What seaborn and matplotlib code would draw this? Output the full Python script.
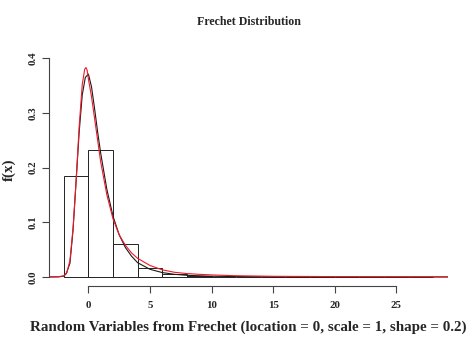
import numpy as np
import pandas as pd
import seaborn as sns
import matplotlib
matplotlib.use("Agg")
import matplotlib.pyplot as plt

# Histogram of the simulated sample: bin edges (width 2) and densities
bin_edges = [-2, 0, 2, 4, 6, 8, 10, 12, 14, 16, 18, 20, 22, 24, 26, 28]
bin_density = [0.1846, 0.2316, 0.0597, 0.0170, 0.0060, 0.0020, 0.0008,
               0.0004, 0.0002, 0.0001, 0.0001, 0.0, 0.0, 0.0, 0.0001]

# Theoretical Frechet density (black)
theo_x = [-3.2, -2.4, -2.0, -1.8, -1.5, -1.25, -1.0, -0.75, -0.5, -0.25,
          0.0, 0.25, 0.5, 0.75, 1.0, 1.5, 2.0, 2.5, 3.0, 3.5, 4.0, 5.0,
          6.0, 7.0, 8.0, 10.0, 12.0, 15.0, 20.0, 29.2]
theo_y = [0.0, 0.0002, 0.0015, 0.006, 0.025, 0.085, 0.175, 0.265, 0.333,
          0.365, 0.371, 0.348, 0.308, 0.265, 0.226, 0.160, 0.111, 0.077,
          0.054, 0.038, 0.026, 0.014, 0.0080, 0.0048, 0.0030, 0.0013,
          0.0007, 0.00025, 0.00006, 0.0]

# Kernel density estimate of the sample (red)
kde_x = [-3.2, -2.5, -2.0, -1.75, -1.5, -1.25, -1.0, -0.75, -0.5, -0.3,
         -0.2, -0.1, 0.0, 0.25, 0.5, 0.75, 1.0, 1.5, 2.0, 2.5, 3.0, 3.5,
         4.0, 5.0, 6.0, 7.0, 8.0, 9.0, 10.0, 12.0, 15.0, 20.0, 25.0, 29.2]
kde_y = [0.0, 0.0003, 0.002, 0.008, 0.030, 0.088, 0.175, 0.275, 0.352,
         0.380, 0.383, 0.378, 0.362, 0.330, 0.290, 0.250, 0.210, 0.150,
         0.106, 0.077, 0.058, 0.044, 0.034, 0.021, 0.013, 0.0085, 0.0062,
         0.0048, 0.0037, 0.0022, 0.0012, 0.0006, 0.0003, 0.0001]

x_ticks = [0, 5, 10, 15, 20, 25]
y_ticks = [0.0, 0.1, 0.2, 0.3, 0.4]

sns.set_theme(style="ticks")
plt.rcParams["font.family"] = ["Liberation Serif", "DejaVu Serif"]
plt.rcParams["font.weight"] = "bold"

fig = plt.figure(figsize=(4.74, 3.47), dpi=100)
ax = fig.add_axes([49 / 474, 1 - 285.7 / 347, (448 - 49) / 474, (285.7 - 49.5) / 347])

centers = [(a + b) / 2 for a, b in zip(bin_edges[:-1], bin_edges[1:])]
hist_df = pd.DataFrame({"x": centers, "w": bin_density})
sns.histplot(data=hist_df, x="x", weights="w", bins=bin_edges, stat="count",
             fill=False, element="bars", color="#222222", linewidth=0.7, ax=ax)

sns.lineplot(x=theo_x, y=theo_y, color="#1a1a1a", linewidth=0.8,
             estimator=None, sort=False, ax=ax)
sns.lineplot(x=kde_x, y=kde_y, color="#f01828", linewidth=0.8,
             estimator=None, sort=False, ax=ax)

ax.set_xlim(-3.2, 29.2)
ax.set_ylim(-0.016, 0.416)
ax.set_xticks(x_ticks)
ax.set_yticks(y_ticks)
ax.set_xticklabels([str(t) for t in x_ticks], fontsize=7.8, fontweight="bold")
ax.set_yticklabels([f"{t:.1f}" for t in y_ticks], fontsize=7.8,
                   fontweight="bold", rotation=90, va="center")
ax.tick_params(axis="both", length=5, width=0.8, color="#444444")
ax.tick_params(axis="x", pad=6)
ax.tick_params(axis="y", pad=3)

for side in ("top", "right"):
    ax.spines[side].set_visible(False)
ax.spines["left"].set_bounds(0, 0.4)
ax.spines["bottom"].set_bounds(0, 25)
for side in ("left", "bottom"):
    ax.spines[side].set_linewidth(0.8)
    ax.spines[side].set_color("#444444")

ax.set_xlabel("")
ax.set_ylabel("")
fig.text(248.5 / 474, 1 - 22 / 347, "Frechet Distribution", ha="center",
         va="center", fontsize=8.6, fontweight="bold")
fig.text(248.5 / 474, 1 - 327 / 347,
         "Random Variables from Frechet (location = 0, scale = 1, shape = 0.2)",
         ha="center", va="center", fontsize=10.8, fontweight="bold")
fig.text(9 / 474, 1 - 170 / 347, "f(x)", ha="center", va="center",
         rotation=90, fontsize=10.8, fontweight="bold")

fig.savefig("out.png", dpi=100, facecolor="white")
